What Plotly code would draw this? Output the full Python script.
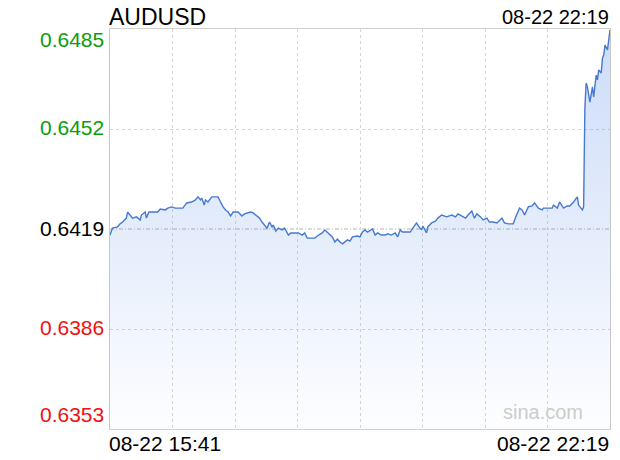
import plotly.graph_objects as go

# minutes after 08-22 15:41
minutes = [0, 2, 6, 8, 10, 13, 14, 16, 18, 21, 24, 25, 28, 29, 31, 36, 38, 40, 44, 46,
           49, 52, 54, 58, 61, 65, 68, 70, 72, 73, 75, 76, 78, 80, 81, 84, 86, 88, 90, 92,
           94, 96, 98, 102, 105, 107, 110, 112, 114, 117, 119, 121, 123, 125, 127, 129, 130, 132, 134, 137,
           139, 142, 144, 146, 150, 153, 155, 157, 160, 163, 166, 169, 171, 174, 177, 179, 181, 183, 185, 189,
           191, 193, 197, 199, 201, 203, 205, 209, 211, 213, 216, 219, 221, 224, 227, 229, 231, 233, 236, 239,
           241, 244, 246, 248, 249, 252, 253, 256, 259, 261, 264, 268, 272, 275, 277, 280, 283, 285, 288, 290,
           292, 295, 297, 300, 302, 305, 308, 312, 314, 317, 321, 323, 326, 328, 330, 333, 336, 338, 341, 344,
           345, 349, 352, 353, 356, 358, 361, 364, 366, 369, 372, 373, 376, 377, 378, 379, 380, 382, 384, 385,
           386, 387, 388, 389, 391, 392, 393, 394, 396, 397, 398]
prices = [0.64170, 0.64193, 0.64197, 0.64207, 0.64213, 0.64226, 0.64246, 0.64236, 0.64226, 0.64230,
          0.64220, 0.64236, 0.64246, 0.64226, 0.64246, 0.64246, 0.64246, 0.64256, 0.64253, 0.64259,
          0.64263, 0.64259, 0.64259, 0.64259, 0.64276, 0.64279, 0.64286, 0.64296, 0.64286, 0.64292,
          0.64269, 0.64286, 0.64279, 0.64292, 0.64296, 0.64296, 0.64296, 0.64279, 0.64263, 0.64253,
          0.64246, 0.64233, 0.64246, 0.64246, 0.64233, 0.64240, 0.64243, 0.64246, 0.64243, 0.64233,
          0.64226, 0.64213, 0.64203, 0.64193, 0.64213, 0.64197, 0.64203, 0.64183, 0.64193, 0.64187,
          0.64193, 0.64170, 0.64177, 0.64177, 0.64177, 0.64170, 0.64177, 0.64160, 0.64160, 0.64160,
          0.64170, 0.64177, 0.64187, 0.64177, 0.64164, 0.64147, 0.64157, 0.64147, 0.64141, 0.64154,
          0.64150, 0.64164, 0.64167, 0.64164, 0.64180, 0.64187, 0.64180, 0.64190, 0.64170, 0.64177,
          0.64170, 0.64170, 0.64174, 0.64170, 0.64177, 0.64164, 0.64187, 0.64180, 0.64180, 0.64180,
          0.64193, 0.64210, 0.64197, 0.64187, 0.64200, 0.64177, 0.64197, 0.64210, 0.64216, 0.64226,
          0.64236, 0.64230, 0.64236, 0.64230, 0.64240, 0.64233, 0.64226, 0.64236, 0.64249, 0.64226,
          0.64240, 0.64230, 0.64220, 0.64226, 0.64213, 0.64213, 0.64210, 0.64226, 0.64210, 0.64207,
          0.64207, 0.64230, 0.64259, 0.64253, 0.64236, 0.64263, 0.64266, 0.64276, 0.64259, 0.64253,
          0.64259, 0.64259, 0.64259, 0.64269, 0.64259, 0.64279, 0.64259, 0.64266, 0.64266, 0.64279,
          0.64296, 0.64269, 0.64253, 0.64263, 0.64589, 0.64672, 0.64659, 0.64609, 0.64659, 0.64626,
          0.64665, 0.64698, 0.64682, 0.64715, 0.64705, 0.64754, 0.64764, 0.64797, 0.64781, 0.64824,
          0.64847]

symbol = "AUDUSD"
start_label = "08-22 15:41"
end_label = "08-22 22:19"
prev_close = 0.6419
y_ticks = [0.6485, 0.6452, 0.6419, 0.6386, 0.6353]
y_tick_text = ["0.6485", "0.6452", "0.6419", "0.6386", "0.6353"]
y_tick_colors = ["#0a9e0a", "#0a9e0a", "#000000", "#f01010", "#f01010"]
total_minutes = 398

FONT = "Liberation Sans, Arial, Helvetica, sans-serif"

fig = go.Figure()
fig.add_trace(go.Scatter(
    x=minutes, y=prices, mode="lines",
    line=dict(color="#4679d2", width=1.4),
    fill="tozeroy",
    fillgradient=dict(type="vertical",
                      colorscale=[[0, "rgba(58,118,230,0.01)"], [1, "rgba(58,118,230,0.26)"]],
                      start=y_ticks[-1], stop=y_ticks[0]),
    hoverinfo="skip", showlegend=False,
))

grid_x = [total_minutes * i / 8 for i in range(1, 8)]

fig.update_xaxes(range=[0, total_minutes], tickvals=grid_x, showticklabels=False,
                 showgrid=True, gridcolor="#d6d6d6", griddash="dot", gridwidth=1,
                 zeroline=False, showline=True, linecolor="#d0d0d0", linewidth=1,
                 mirror=True, ticks="")
fig.update_yaxes(range=[y_ticks[-1], y_ticks[0]], tickvals=[y_ticks[1], y_ticks[3]],
                 showticklabels=False, showgrid=True, gridcolor="#d6d6d6", griddash="dot",
                 gridwidth=1, zeroline=False, showline=True, linecolor="#c8c8c8", linewidth=1,
                 mirror=True, ticks="")

fig.add_shape(type="line", xref="x", yref="y", x0=0, x1=total_minutes, y0=prev_close, y1=prev_close,
              line=dict(color="#b4b4b4", width=1, dash="4px,2px,1px,2px"), layer="below")

shifts = [-10, 2, 1, 2, 15]
for v, t, c, s in zip(y_ticks, y_tick_text, y_tick_colors, shifts):
    fig.add_annotation(x=0, xref="paper", y=v, yref="y", text=t, showarrow=False,
                       xanchor="right", yanchor="middle", xshift=-4, yshift=s,
                       font=dict(family=FONT, size=21, color=c))

fig.add_annotation(x=0, xref="paper", y=1, yref="paper", text=symbol, showarrow=False,
                   xanchor="left", yanchor="bottom", xshift=-2, yshift=-2, borderpad=0,
                   font=dict(family=FONT, size=23, color="#000"))
fig.add_annotation(x=1, xref="paper", y=1, yref="paper", text=end_label, showarrow=False,
                   xanchor="right", yanchor="bottom", xshift=0, yshift=0, borderpad=0,
                   font=dict(family=FONT, size=20, color="#000"))
fig.add_annotation(x=0, xref="paper", y=0, yref="paper", text=start_label, showarrow=False,
                   xanchor="left", yanchor="top", xshift=-3, yshift=-1,
                   font=dict(family=FONT, size=21, color="#000"))
fig.add_annotation(x=1, xref="paper", y=0, yref="paper", text=end_label, showarrow=False,
                   xanchor="right", yanchor="top", xshift=1, yshift=-1,
                   font=dict(family=FONT, size=21, color="#000"))
fig.add_annotation(x=0.95, xref="paper", y=0, yref="paper", text="sina.com", showarrow=False,
                   xanchor="right", yanchor="bottom", yshift=4,
                   font=dict(family=FONT, size=20, color="#cccccc"))

fig.update_layout(width=620, height=460, margin=dict(l=110, r=10, t=29, b=31),
                  paper_bgcolor="white", plot_bgcolor="white", showlegend=False)

# remove the page's default body margin so the figure sits at the window's corner
fig.write_html("out.html", config={"displayModeBar": False},
               post_script="document.body.style.margin='0';")
